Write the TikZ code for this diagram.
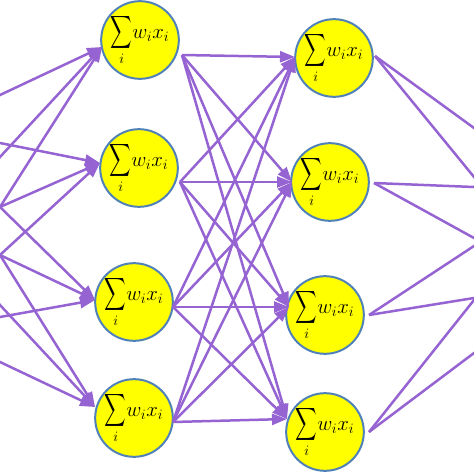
\documentclass[tikz,border=0pt]{standalone}
\usepackage{graphicx}
\usepackage{amsmath}
\usetikzlibrary{arrows.meta}
\definecolor{lineviolet}{RGB}{150,100,210}
\definecolor{ringblue}{RGB}{80,130,185}
\definecolor{nodeyellow}{RGB}{255,255,0}
\newcommand{\neuronsum}{$\mathop{\scalebox{0.72}[1.1]{$\displaystyle\sum$}}\limits_{i}\! w_i x_i$}
\begin{document}
\begin{tikzpicture}[x=1pt,y=-1pt,
  neuron/.style={circle, draw=ringblue, line width=2pt, fill=nodeyellow, minimum size=75pt, inner sep=0pt, font=\fontsize{21}{24}\selectfont},
  link/.style={draw=lineviolet, line width=2.5pt},
  arrowlink/.style={link, -{Triangle[length=15pt,width=11pt]}}]
\useasboundingbox (0,0) rectangle (474,474);
\clip (0,0) rectangle (474,474);
\fill[white] (0,0) rectangle (474,474);

% first hidden layer
\node[neuron] (n1) at (140,40) {\neuronsum};
\node[neuron] (n2) at (139,168) {\neuronsum};
\node[neuron] (n3) at (134,302) {\neuronsum};
\node[neuron] (n4) at (134,418) {\neuronsum};
% second hidden layer
\node[neuron] (m1) at (334,58) {\neuronsum};
\node[neuron] (m2) at (330,182) {\neuronsum};
\node[neuron] (m3) at (325,315) {\neuronsum};
\node[neuron] (m4) at (325,432) {\neuronsum};

% attachment points
\coordinate (n1in) at (102,47);
\coordinate (n2in) at (100,163);
\coordinate (n3in) at (95,300);
\coordinate (n4in) at (95,407);
\coordinate (n1out) at (182,55);
\coordinate (n2out) at (180,182);
\coordinate (n3out) at (173,307);
\coordinate (n4out) at (173,422);
\coordinate (m1in) at (295,57);
\coordinate (m2in) at (292,182);
\coordinate (m3in) at (289,307);
\coordinate (m4in) at (287,419);
\coordinate (m1out) at (375,56);
\coordinate (m2out) at (374,183);
\coordinate (m3out) at (369,315);
\coordinate (m4out) at (369,432);

% inputs entering from the left edge
\coordinate (p1) at (0,95);
\coordinate (p2) at (0,143);
\coordinate (p3) at (0,157);
\coordinate (p4) at (0,207);
\coordinate (p5) at (0,255);
\coordinate (p6) at (0,305);
\coordinate (p7) at (0,317);
\coordinate (p8) at (0,362);

% outputs leaving at the right edge
\coordinate (q1) at (474,128);
\coordinate (q2) at (474,177);
\coordinate (q3) at (474,187);
\coordinate (q4) at (474,238);
\coordinate (q5) at (474,246);
\coordinate (q6) at (474,298);
\coordinate (q7) at (474,300);
\coordinate (q8) at (474,353);

\begin{scope}[arrowlink, shorten <=-12pt]
\draw (p1) -- (n1in);
\draw (p3) -- (n1in);
\draw (p4) -- (n1in);
\draw (p2) -- (n2in);
\draw (p4) -- (n2in);
\draw (p5) -- (n2in);
\draw (p4) -- (n3in);
\draw (p5) -- (n3in);
\draw (p7) -- (n3in);
\draw (p5) -- (n4in);
\draw (p6) -- (n4in);
\draw (p8) -- (n4in);
\end{scope}

\begin{scope}[arrowlink]
\foreach \a in {n1out,n2out,n3out,n4out}{
  \foreach \b in {m1in,m2in,m3in,m4in}{
    \draw (\a) -- (\b);
  }
}
\end{scope}

\begin{scope}[link, shorten >=-12pt]
\draw (m1out) -- (q1);
\draw (m1out) -- (q2);
\draw (m2out) -- (q3);
\draw (m2out) -- (q4);
\draw (m3out) -- (q5);
\draw (m3out) -- (q6);
\draw (m4out) -- (q7);
\draw (m4out) -- (q8);
\end{scope}
\end{tikzpicture}
\end{document}
